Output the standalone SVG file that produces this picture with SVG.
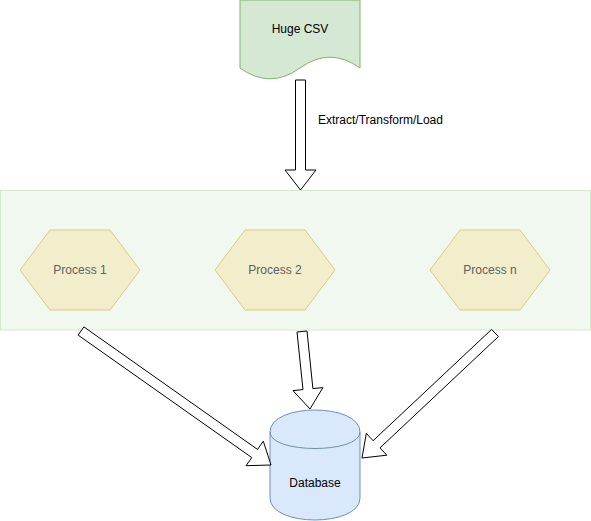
<svg xmlns="http://www.w3.org/2000/svg" width="591" height="521" viewBox="0 0 591 521">
<style>
text{font-family:"Liberation Sans",Arial,sans-serif;font-size:12px;}
.hex{fill:#f2eecc;stroke:#dccb80;stroke-width:1;}
.hext{fill:#606060;text-anchor:middle;}
.arr{fill:#ffffff;stroke:#000000;stroke-width:1;stroke-linejoin:miter;}
</style>
<rect width="591" height="521" fill="#ffffff"/>
<g id="csv">
<path d="M240,0 L360,0 L360,68 Q330,46.4 300,68 Q270,89.6 240,68 Z" fill="#d5e8d4" stroke="#82b366" stroke-width="1"/>
<text x="300" y="33" text-anchor="middle" fill="#000">Huge CSV</text>
</g>
<g id="container">
<rect x="0.5" y="190.5" width="590" height="139.5" fill="#f1f8f0" stroke="#d6e8d0" stroke-width="1"/>
</g>
<g id="process1">
<polygon class="hex" points="20,270 50,230 110,230 140,270 110,310 50,310"/>
<text class="hext" x="80" y="274">Process 1</text>
</g>
<g id="process2">
<polygon class="hex" points="215,270 245,230 305,230 335,270 305,310 245,310"/>
<text class="hext" x="275" y="274">Process 2</text>
</g>
<g id="processn">
<polygon class="hex" points="430,270 460,230 520,230 550,270 520,310 460,310"/>
<text class="hext" x="490" y="274">Process n</text>
</g>
<g id="database">
<path d="M270,432 C270,402.67 360,402.67 360,432 L360,498 C360,527.33 270,527.33 270,498 Z" fill="#dae8fc" stroke="#6c8ebf" stroke-width="1"/>
<path d="M270,432 C270,454 360,454 360,432" fill="none" stroke="#6c8ebf" stroke-width="1"/>
<text x="315" y="487" text-anchor="middle" fill="#000">Database</text>
</g>
<g id="connectors">
<polygon class="arr" points="295.5,80 305.5,80 305.5,170 316,170 300.5,190 285,170 295.5,170"/>
<text x="318" y="124" fill="#000">Extract/Transform/Load</text>
<polygon class="arr" points="83.9,326.9 257.5,449.4 263.3,441.2 271,465 246,465.7 251.8,457.6 78.1,335.1"/>
<polygon class="arr" points="297,332 303,389.6 293,390.6 310,409 322.9,387.6 312.9,388.6 307,331"/>
<polygon class="arr" points="491.6,329.4 373.1,440.7 366.3,433.4 362,458 386.8,455.2 380,447.9 498.4,336.6"/>
</g>
</svg>
